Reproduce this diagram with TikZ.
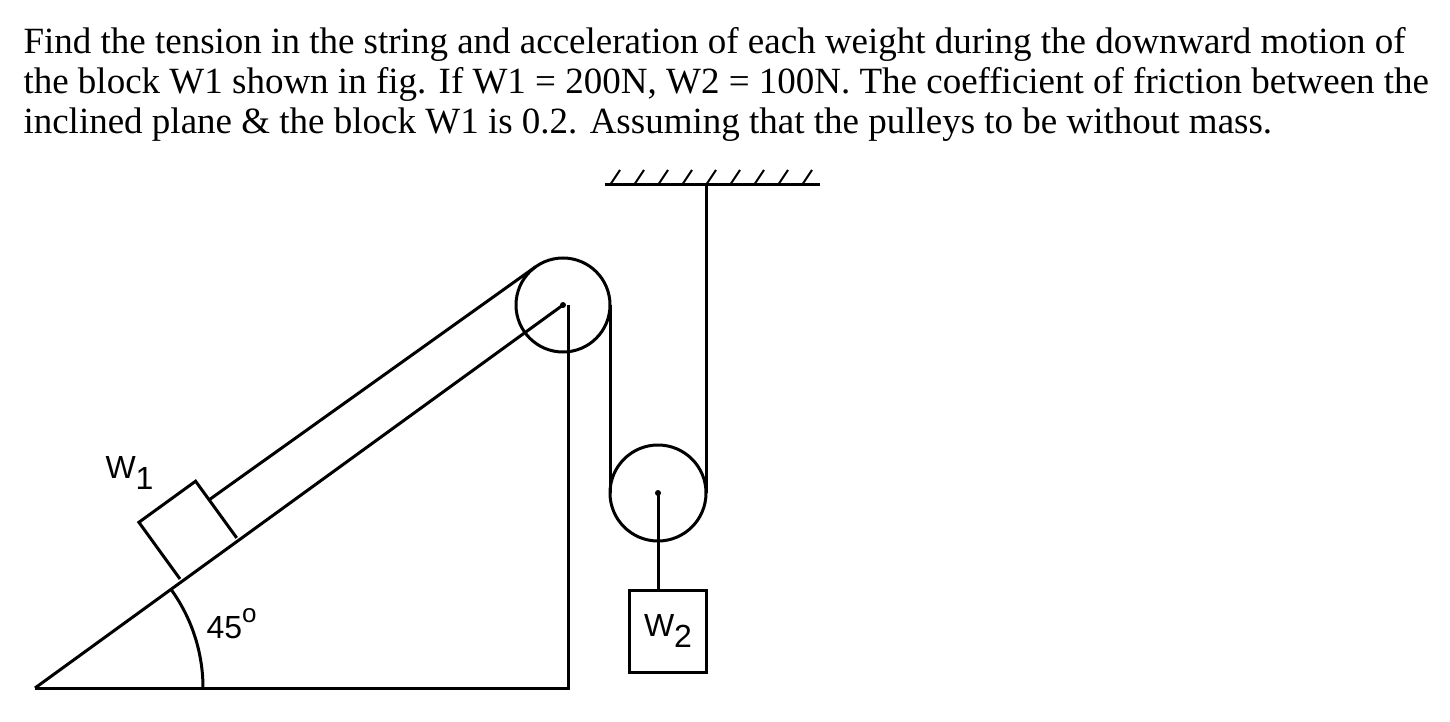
\documentclass[tikz,border=0pt]{standalone}
\usepackage{fontspec}
\setmainfont{Liberation Serif}
\newfontfamily\lsans{Liberation Sans}
\begin{document}
\begin{tikzpicture}[x=1pt,y=-1pt,line width=3pt,
  ttl/.style={anchor=base west,inner sep=0pt,font=\fontsize{37}{40}\selectfont},
  lbl/.style={inner sep=0pt,font=\lsans\fontsize{32}{34}\selectfont}]
\useasboundingbox (0,0) rectangle (1450,722);
\node[ttl] (l1) at (22,54) {Find the tension in the string and acceleration of each weight during the downward motion of};
\node[ttl] (l2) at (22,94) {the block W1 shown in fig. If W1 = 200N, W2 = 100N. The coefficient of friction between the};
\node[ttl] (l3) at (22,134) {inclined plane \& the block W1 is 0.2. Assuming that the pulleys to be without mass.};
% ceiling
\coordinate (cL) at (605,185); \coordinate (cR) at (820,185);
\draw (cL) -- (cR);
\foreach \x in {610,634,...,810} \draw[line width=2pt] (\x,185) -- (\x+10,170);
% incline
\coordinate (A) at (35,688); \coordinate (B) at (568,688); \coordinate (P) at (563,305);
\draw (A) -- (B) -- (568,305);
\draw (A) -- (P);
\fill (P) circle (3);
% top pulley
\draw (P) circle (47);
% block W1
\coordinate (c0) at (180,579);
\coordinate (c1) at (236.7,537.9);
\coordinate (c2) at (195.6,481.2);
\coordinate (c3) at (138.9,522.3);
\draw (c0) -- (c3) -- (c2) -- (c1);
\coordinate (s1) at (209.1,499.8);
\coordinate (s2) at (535.4,266.9);
\draw (s1) -- (s2);
% angle arc
\draw (203,688) arc[start angle=0,end angle=-36,radius=168];
\node[lbl,anchor=base west] (ang) at (205,638) {45\raisebox{0.5em}{\fontsize{26}{28}\selectfont o}};
\node[lbl,anchor=base west] (w1) at (104,478) {W\raisebox{-0.35em}{1}};
% lower pulley
\coordinate (Q) at (658,493);
\draw (Q) circle (48);
\fill (Q) circle (3);
\draw (610,305) -- (610,493);
\draw (706,185) -- (706,493);
\node[draw,lbl,minimum width=77,minimum height=82,line width=3pt] (w2) at (668,631) {W\raisebox{-0.35em}{2}};
\draw (Q) -- (w2.north -| Q);
\end{tikzpicture}
\end{document}
